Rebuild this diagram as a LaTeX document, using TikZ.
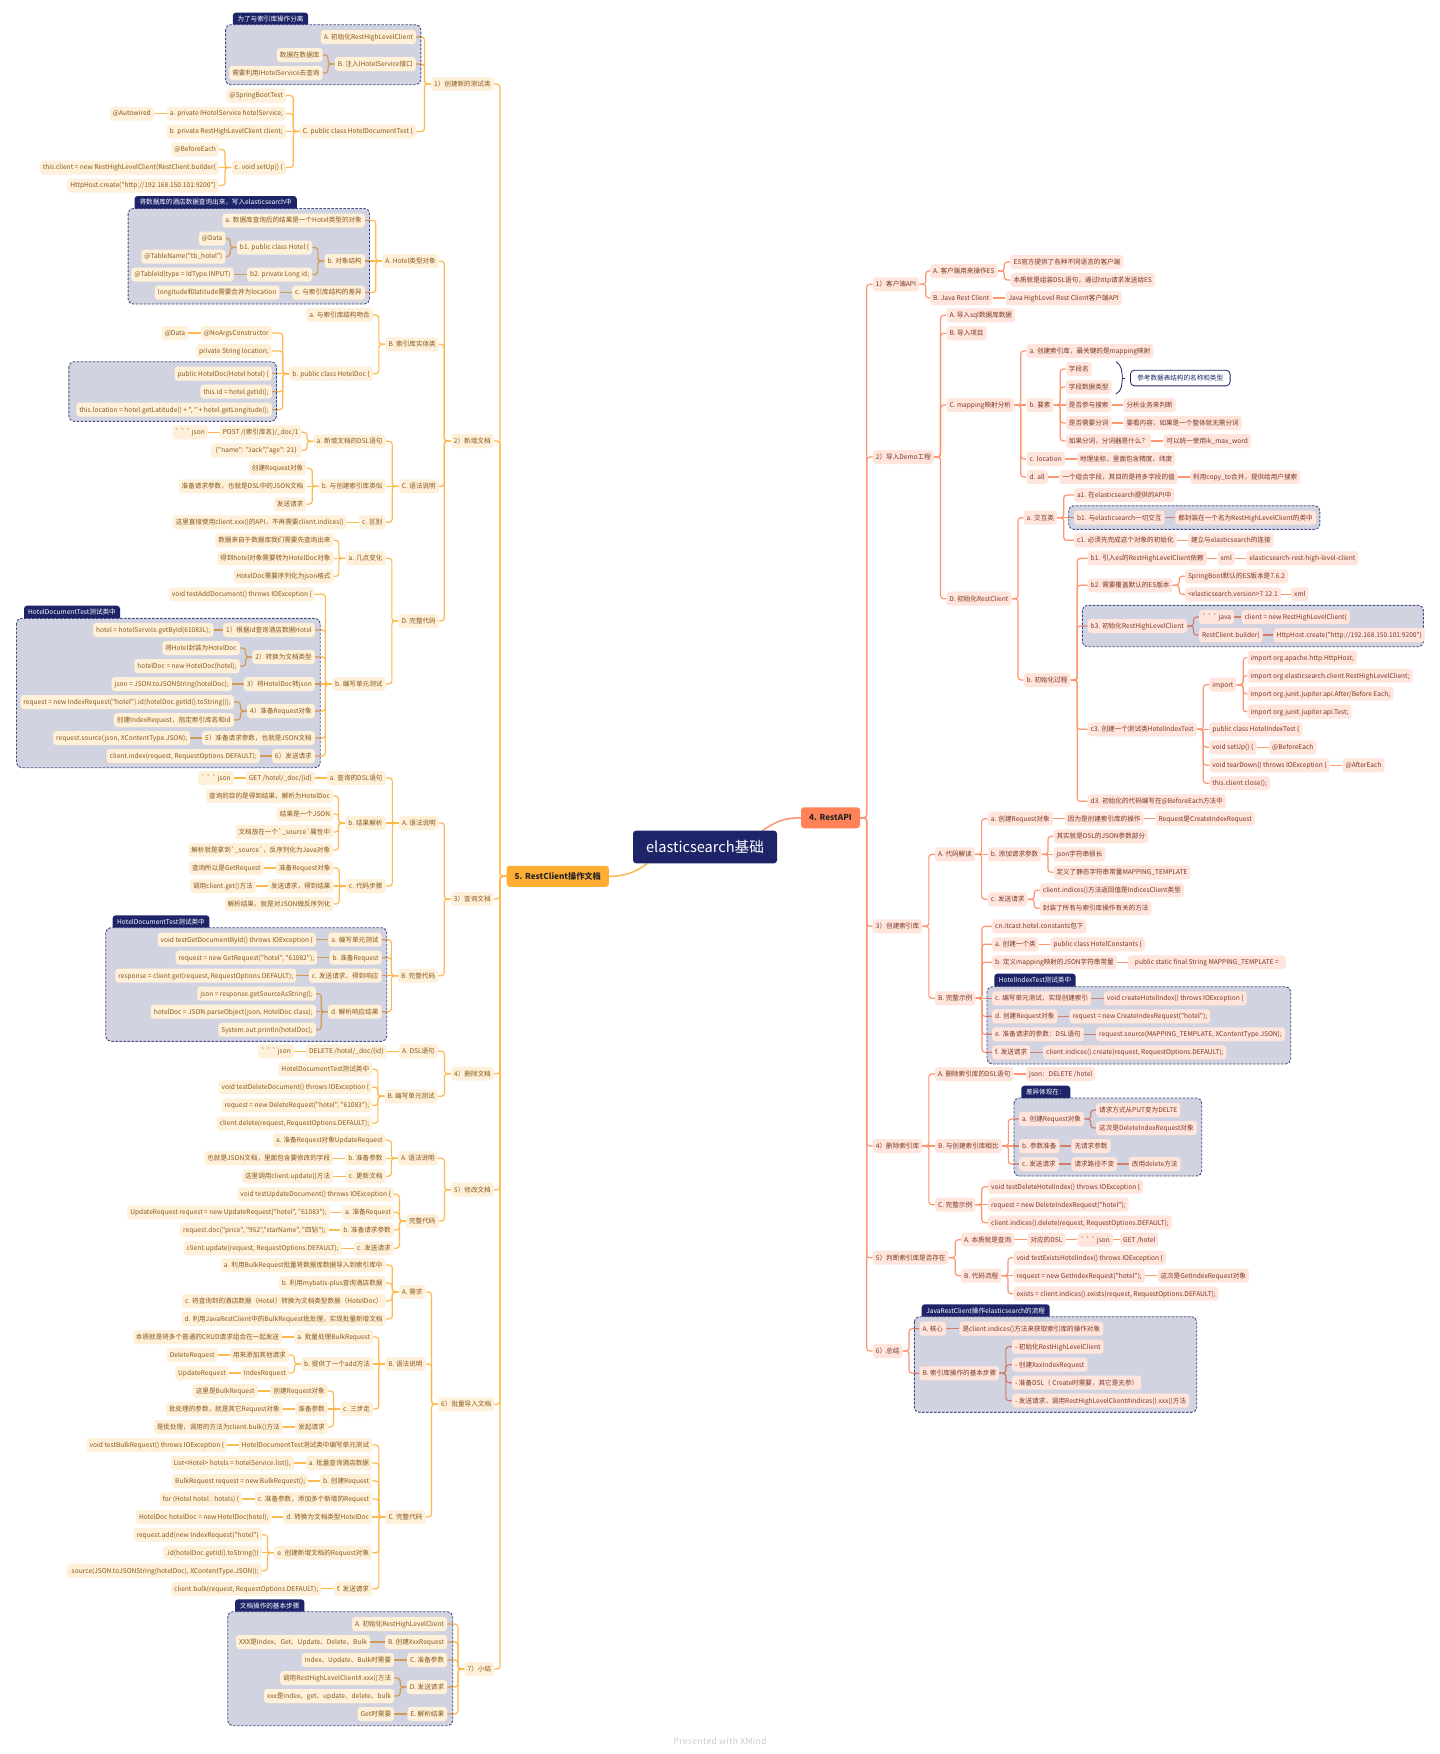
\documentclass[tikz,border=0pt]{standalone}
\usepackage{fontspec}
\newfontfamily\cjk{Noto Sans CJK SC}
\usetikzlibrary{arrows.meta}
\definecolor{navy}{HTML}{1D2568}
\definecolor{ylin}{HTML}{FFB84D}
\definecolor{yfil}{HTML}{FFF0DA}
\definecolor{ytxt}{HTML}{85581A}
\definecolor{ytop}{HTML}{FFAD33}
\definecolor{rlin}{HTML}{FF9470}
\definecolor{rfil}{HTML}{FFE5DC}
\definecolor{rtxt}{HTML}{7A3626}
\definecolor{rtop}{HTML}{FF8258}
\pgfdeclarelayer{lines}
\pgfdeclarelayer{zones}
\pgfsetlayers{lines,zones,main}
\tikzset{
  base/.style={inner xsep=3pt, inner ysep=0pt, minimum height=14pt, text height=6pt, text depth=1.4pt,
    rounded corners=3pt, font=\cjk\fontsize{6.6pt}{8pt}\selectfont},
  lnode/.style={base, anchor=east, fill=yfil, text=ytxt},
  rnode/.style={base, anchor=west, fill=rfil, text=rtxt},
  lline/.style={ylin, line width=1.2pt, rounded corners=3pt},
  rline/.style={rlin, line width=1.2pt, rounded corners=3pt},
  toL/.style={to path={(\tikztostart.west) -- ++(-6.5,0) |- (\tikztotarget.east)}},
  toR/.style={to path={(\tikztostart.east) -- ++(6.5,0) |- (\tikztotarget.west)}},
  zonebox/.style={draw=navy, line width=0.9pt, dash pattern=on 2.6pt off 1.4pt, fill=navy, fill opacity=.2,
    draw opacity=.8, rounded corners=5pt},
  tabtext/.style={text=white, inner sep=0pt, font=\cjk\fontsize{6.6pt}{8pt}\selectfont},
  topicnode/.style={rounded corners=3pt, text=black!85, minimum height=21pt, font=\cjk\bfseries\fontsize{8.2pt}{10pt}\selectfont}
}
\newcommand{\joinL}[2]{\foreach \kid in {#2} {%
  \pgfpointanchor{#1}{west}\pgfgetlastxy{\ax}{\ay}%
  \pgfpointanchor{\kid}{east}\pgfgetlastxy{\bx}{\by}%
  \pgfmathtruncatemacro{\flat}{abs(\ay-\by)<0.5}%
  \ifnum\flat=1 \draw[lline] (#1.west) -- (\kid.east); \else \draw[lline] (#1) to[toL] (\kid); \fi}}
\newcommand{\joinR}[2]{\foreach \kid in {#2} {%
  \pgfpointanchor{#1}{east}\pgfgetlastxy{\ax}{\ay}%
  \pgfpointanchor{\kid}{west}\pgfgetlastxy{\bx}{\by}%
  \pgfmathtruncatemacro{\flat}{abs(\ay-\by)<0.5}%
  \ifnum\flat=1 \draw[rline] (#1.east) -- (\kid.west); \else \draw[rline] (#1) to[toR] (\kid); \fi}}
\newcommand{\zone}[4]{\begin{pgfonlayer}{zones}\draw[zonebox] (#1,#2) rectangle (#3,#4);\end{pgfonlayer}}
\newcommand{\zonetab}[6]{\fill[navy] (#2,#5) [rounded corners=3pt] -- (#2,#3) -- (#4,#3) [sharp corners] -- (#4,#5) -- cycle;
  \node (#1) at ({(#2+#4)/2},{(#3+#5)/2}) [tabtext] {#6};}
\begin{document}
\begin{tikzpicture}[x=1pt, y=-1pt]
    \useasboundingbox (0,0) rectangle (1440,1754);

    \node (main) at (705,847) [fill=navy, text=white, rounded corners=3pt, minimum width=144pt, minimum height=32.6pt, font=\cjk\fontsize{14.6pt}{17pt}\selectfont] {elasticsearch基础};
    \node (n5) at (557.8,876.3) [topicnode, fill=ytop, minimum width=102.3pt] {5. RestClient操作文档};
    \node (n4) at (830.5,817.8) [topicnode, fill=rtop, minimum width=59pt] {4. RestAPI};
    \node (mark) at (720,1741) [text=black!20, inner sep=0pt, font=\cjk\fontsize{8.6pt}{10pt}\selectfont\addfontfeature{LetterSpace=4}] {Presented with XMind};

    % RestClient side
    \zone{225.6}{24.7}{420.8}{84.7}
    \zonetab{t1}{232.8}{12.7}{308.2}{24.7}{为了与索引库操作分离}
    \node (l1) at (493.8,84) [lnode] {1）创建新的测试类};
    \node (l1A) at (416,37) [lnode] {A. 初始化RestHighLevelClient};
    \node (l1B) at (416,64) [lnode] {B. 注入IHotelService接口};
    \node (l1Ba) at (322.7,55) [lnode] {数据在数据库};
    \node (l1Bb) at (322.7,73) [lnode] {需要利用IHotelService去查询};
    \node (l1C) at (416,131.5) [lnode] {C. public class HotelDocumentTest \{};
    \node (l1Ca) at (286,95.5) [lnode] {@SpringBootTest};
    \node (l1Cb) at (286,113.5) [lnode] {a. private IHotelService hotelService;};
    \node (l1Cb1) at (154,113.5) [lnode] {@Autowired};
    \node (l1Cc) at (286,131.5) [lnode] {b. private RestHighLevelClient client;};
    \node (l1Cd) at (286,167.5) [lnode] {c. void setUp() \{};
    \node (l1Cd1) at (219,149.5) [lnode] {@BeforeEach};
    \node (l1Cd2) at (219,167.5) [lnode] {this.client = new RestHighLevelClient(RestClient.builder(};
    \node (l1Cd3) at (219,185.5) [lnode] {HttpHost.create("http://192.168.150.101:9200")};

    \zone{128.1}{208.5}{369.5}{304}
    \zonetab{t2}{134.6}{196}{296.8}{208.5}{将数据库的酒店数据查询出来，写入elasticsearch中}
    \node (l2) at (493.8,441) [lnode] {2）新增文档};
    \node (l2A) at (439,261) [lnode] {A. Hotel类型对象};
    \node (l2Aa) at (365,220.5) [lnode] {a. 数据库查询后的结果是一个Hotel类型的对象};
    \node (l2Ab) at (365,261) [lnode] {b. 对象结构};
    \node (l2Ab1) at (312.3,247.5) [lnode] {b1. public class Hotel \{};
    \node (l2Ab1a) at (225.6,238.5) [lnode] {@Data};
    \node (l2Ab1b) at (225.6,256.5) [lnode] {@TableName("tb\_hotel")};
    \node (l2Ab2) at (312.3,274.5) [lnode] {b2. private Long id;};
    \node (l2Ab2a) at (233.8,274.5) [lnode] {@TableId(type = IdType.INPUT)};
    \node (l2Ac) at (365,292.5) [lnode] {c. 与索引库结构的差异};
    \node (l2Ac1) at (279.6,292.5) [lnode] {longitude和latitude需要合并为location};

    \zone{68.9}{361.7}{276.5}{421.3}
    \node (l2B) at (439,344.3) [lnode] {B. 索引库实体类};
    \node (l2Ba) at (373,315) [lnode] {a. 与索引库结构吻合};
    \node (l2Bb) at (373,373.7) [lnode] {b. public class HotelDoc \{};
    \node (l2Bb1) at (272,333) [lnode] {@NoArgsConstructor};
    \node (l2Bb1a) at (188.4,333) [lnode] {@Data};
    \node (l2Bb2) at (272,351) [lnode] {private String location;};
    \node (l2Bb3) at (272,373.7) [lnode] {public HotelDoc(Hotel hotel) \{};
    \node (l2Bb4) at (272,391.7) [lnode] {this.id = hotel.getId();};
    \node (l2Bb5) at (272,409.7) [lnode] {this.location = hotel.getLatitude() + ", " + hotel.getLongitude();};
    \node (l2C) at (439,486.3) [lnode] {C. 语法说明};
    \node (l2Ca) at (385.7,441.3) [lnode] {a. 新增文档的DSL语句};
    \node (l2Ca1) at (301.7,432.3) [lnode] {POST /\{索引库名\}/\_doc/1};
    \node (l2Ca1a) at (208,432.3) [lnode] {` ` ` json};
    \node (l2Ca2) at (301.7,450.3) [lnode, inner xsep=5pt] {\{"name": "Jack","age": 21\}};
    \node (l2Cb) at (385.7,486.3) [lnode] {b. 与创建索引库类似};
    \node (l2Cb1) at (306.5,468.3) [lnode] {创建Request对象};
    \node (l2Cb2) at (306.5,486.3) [lnode] {准备请求参数，也就是DSL中的JSON文档};
    \node (l2Cb3) at (306.5,504.3) [lnode] {发送请求};
    \node (l2Cc) at (385.7,522.3) [lnode] {c. 区别};
    \node (l2Cc1) at (347,522.3) [lnode] {这里直接使用client.xxx()的API，不再需要client.indices()};
    \node (l2D) at (439,621) [lnode] {D. 完整代码};
    \node (l2Da) at (385.7,558.3) [lnode] {a. 几点变化};
    \node (l2Da1) at (333.7,540.3) [lnode] {数据来自于数据库我们需要先查询出来};
    \node (l2Da2) at (333.7,558.3) [lnode] {得到hotel对象需要转为HotelDoc对象};
    \node (l2Da3) at (333.7,576.3) [lnode] {HotelDoc需要序列化为json格式};
    \node (l2Db) at (385.7,684) [lnode] {b. 编写单元测试};
    \node (l2Db0) at (315,594.3) [lnode] {void testAddDocument() throws IOException \{};

    \zone{16.5}{618.3}{320.2}{767.7}
    \zonetab{t3}{24}{605.7}{120}{618.3}{HotelDocumentTest测试类中}
    \node (l2Db1) at (315,630) [lnode] {1）根据id查询酒店数据Hotel};
    \node (l2Db1a) at (213.5,630) [lnode] {hotel = hotelService.getById(61083L);};
    \node (l2Db2) at (315,657) [lnode] {2）转换为文档类型};
    \node (l2Db2a) at (240,648) [lnode] {将Hotel封装为HotelDoc};
    \node (l2Db2b) at (240,666) [lnode] {hotelDoc = new HotelDoc(hotel);};
    \node (l2Db3) at (315,684) [lnode] {3）将HotelDoc转json};
    \node (l2Db3a) at (232,684) [lnode] {json = JSON.toJSONString(hotelDoc);};
    \node (l2Db4) at (315,711) [lnode] {4）准备Request对象};
    \node (l2Db4a) at (234,702) [lnode] {request = new IndexRequest("hotel").id(hotelDoc.getId().toString());};
    \node (l2Db4b) at (234,720) [lnode] {创建IndexRequest，指定索引库名和id};
    \node (l2Db5) at (315,738) [lnode] {5）准备请求参数，也就是JSON文档};
    \node (l2Db5a) at (190.4,738) [lnode] {request.source(json, XContentType.JSON);};
    \node (l2Db6) at (315,756) [lnode] {6）发送请求};
    \node (l2Db6a) at (260,756) [lnode] {client.index(request, RequestOptions.DEFAULT);};

    \node (l3) at (493.8,899) [lnode] {3）查询文档};
    \node (l3A) at (439,823) [lnode] {A. 语法说明};
    \node (l3Aa) at (385.7,778) [lnode] {a. 查询的DSL语句};
    \node (l3Aa1) at (315,778) [lnode] {GET /hotel/\_doc/\{id\}};
    \node (l3Aa1a) at (233.8,778) [lnode] {` ` ` json};
    \node (l3Ab) at (385.7,823) [lnode] {b. 结果解析};
    \node (l3Ab1) at (333.3,796) [lnode] {查询的目的是得到结果，解析为HotelDoc};
    \node (l3Ab2) at (333.3,814) [lnode] {结果是一个JSON};
    \node (l3Ab3) at (333.3,832) [lnode] {文档放在一个`\_source`属性中};
    \node (l3Ab4) at (333.3,850) [lnode] {解析就是拿到`\_source`，反序列化为Java对象};
    \node (l3Ac) at (385.7,886) [lnode] {c. 代码步骤};
    \node (l3Ac1) at (333.7,868) [lnode] {准备Request对象};
    \node (l3Ac1a) at (263.8,868) [lnode] {查询所以是GetRequest};
    \node (l3Ac2) at (333.7,886) [lnode] {发送请求，得到结果};
    \node (l3Ac2a) at (255.9,886) [lnode] {调用client.get()方法};
    \node (l3Ac3) at (333.7,904) [lnode] {解析结果，就是对JSON做反序列化};

    \zone{105.7}{927.7}{386.7}{1041.3}
    \zonetab{t4}{112.7}{915.3}{209.3}{927.7}{HotelDocumentTest测试类中}
    \node (l3B) at (438.3,975.7) [lnode] {B. 完整代码};
    \node (l3Ba) at (381.7,939.7) [lnode] {a. 编写单元测试};
    \node (l3Ba1) at (316,939.7) [lnode] {void testGetDocumentById() throws IOException \{};
    \node (l3Bb) at (381.7,957.7) [lnode] {b. 准备Request};
    \node (l3Bb1) at (317.3,957.7) [lnode] {request = new GetRequest("hotel", "61082");};
    \node (l3Bc) at (381.7,975.7) [lnode] {c. 发送请求，得到响应};
    \node (l3Bc1) at (296.3,975.7) [lnode] {response = client.get(request, RequestOptions.DEFAULT);};
    \node (l3Bd) at (381.7,1011.7) [lnode] {d. 解析响应结果};
    \node (l3Bd1) at (316,993.7) [lnode] {json = response.getSourceAsString();};
    \node (l3Bd2) at (316,1011.7) [lnode] {hotelDoc = JSON.parseObject(json, HotelDoc.class);};
    \node (l3Bd3) at (316,1029.7) [lnode] {System.out.println(hotelDoc);};

    \node (l4) at (494,1073.7) [lnode] {4）删除文档};
    \node (l4A) at (438,1051.3) [lnode] {A. DSL语句};
    \node (l4A1) at (386.7,1051.3) [lnode] {DELETE /hotel/\_doc/\{id\}};
    \node (l4A1a) at (294,1051.3) [lnode] {` ` ` json};
    \node (l4B) at (438,1096.3) [lnode] {B. 编写单元测试};
    \node (l4B1) at (372.3,1069.3) [lnode] {HotelDocumentTest测试类中};
    \node (l4B2) at (372.3,1087.3) [lnode] {void testDeleteDocument() throws IOException \{};
    \node (l4B3) at (372.3,1105.3) [lnode] {request = new DeleteRequest("hotel", "61083");};
    \node (l4B4) at (372.3,1123.3) [lnode] {client.delete(request, RequestOptions.DEFAULT);};

    \node (l5) at (494,1189.7) [lnode] {5）修改文档};
    \node (l5A) at (438,1158.3) [lnode] {A. 语法说明};
    \node (l5Aa) at (385.7,1140.3) [lnode] {a. 准备Request对象UpdateRequest};
    \node (l5Ab) at (385.7,1158.3) [lnode] {b. 准备参数};
    \node (l5Ab1) at (333.3,1158.3) [lnode] {也就是JSON文档，里面包含要修改的字段};
    \node (l5Ac) at (385.7,1176.3) [lnode] {c. 更新文档};
    \node (l5Ac1) at (333.3,1176.3) [lnode] {这里调用client.update()方法};
    \node (l5B) at (438.7,1221) [lnode] {完整代码};
    \node (l5B0) at (394,1194.3) [lnode] {void testUpdateDocument() throws IOException \{};
    \node (l5Ba) at (394,1212.3) [lnode] {a. 准备Request};
    \node (l5Ba1) at (330,1212.3) [lnode] {UpdateRequest request = new UpdateRequest("hotel", "61083");};
    \node (l5Bb) at (394,1230) [lnode] {b. 准备请求参数};
    \node (l5Bb1) at (328.7,1230) [lnode] {request.doc("price", "952","starName", "四钻");};
    \node (l5Bc) at (394,1248.3) [lnode] {c. 发送请求};
    \node (l5Bc1) at (342,1248.3) [lnode] {client.update(request, RequestOptions.DEFAULT);};

    \node (l6) at (494.3,1404.3) [lnode] {6）批量导入文档};
    \node (l6A) at (425.7,1292) [lnode] {A. 需求};
    \node (l6Aa) at (385.7,1265) [lnode] {a. 利用BulkRequest批量将数据库数据导入到索引库中};
    \node (l6Ab) at (385.7,1283) [lnode] {b. 利用mybatis-plus查询酒店数据};
    \node (l6Ac) at (385.7,1301) [lnode] {c. 将查询到的酒店数据（Hotel）转换为文档类型数据（HotelDoc）};
    \node (l6Ad) at (385.7,1319) [lnode] {d. 利用JavaRestClient中的BulkRequest批处理，实现批量新增文档};
    \node (l6B) at (425.7,1364) [lnode] {B. 语法说明};
    \node (l6Ba) at (373.3,1337) [lnode] {a. 批量处理BulkRequest};
    \node (l6Ba1) at (282.3,1337) [lnode] {本质就是将多个普通的CRUD请求组合在一起发送};
    \node (l6Bb) at (373.3,1364) [lnode] {b. 提供了一个add方法};
    \node (l6Bb1) at (289,1355) [lnode] {用来添加其他请求};
    \node (l6Bb1a) at (217.7,1355) [lnode] {DeleteRequest};
    \node (l6Bb2) at (289,1373) [lnode] {IndexRequest};
    \node (l6Bb2a) at (229,1373) [lnode] {UpdateRequest};
    \node (l6Bc) at (373.3,1409) [lnode] {c. 三步走};
    \node (l6Bc1) at (328,1391) [lnode] {创建Request对象};
    \node (l6Bc1a) at (257.7,1391) [lnode] {这里是BulkRequest};
    \node (l6Bc2) at (328,1409) [lnode] {准备参数};
    \node (l6Bc2a) at (283,1409) [lnode] {批处理的参数，就是其它Request对象};
    \node (l6Bc3) at (328,1427) [lnode] {发起请求};
    \node (l6Bc3a) at (283,1427) [lnode] {是批处理，调用的方法为client.bulk()方法};
    \node (l6C) at (425.7,1517) [lnode] {C. 完整代码};
    \node (l6C0) at (372.3,1445) [lnode] {HotelDocumentTest测试类中编写单元测试};
    \node (l6C0a) at (227.3,1445) [lnode] {void testBulkRequest() throws IOException \{};
    \node (l6Ca) at (372.3,1463) [lnode] {a. 批量查询酒店数据};
    \node (l6Ca1) at (294,1463) [lnode] {List<Hotel> hotels = hotelService.list();};
    \node (l6Cb) at (372.3,1481) [lnode] {b. 创建Request};
    \node (l6Cb1) at (308.3,1481) [lnode] {BulkRequest request = new BulkRequest();};
    \node (l6Cc) at (372.3,1499) [lnode] {c. 准备参数，添加多个新增的Request};
    \node (l6Cc1) at (242.3,1499) [lnode] {for (Hotel hotel : hotels) \{};
    \node (l6Cd) at (372.3,1517) [lnode] {d. 转换为文档类型HotelDoc};
    \node (l6Cd1) at (271.7,1517) [lnode] {HotelDoc hotelDoc = new HotelDoc(hotel);};
    \node (l6Ce) at (372.3,1552.7) [lnode] {e. 创建新增文档的Request对象};
    \node (l6Ce1) at (262,1534.7) [lnode] {request.add(new IndexRequest("hotel")};
    \node (l6Ce2) at (262,1552.7) [lnode] {.id(hotelDoc.getId().toString())};
    \node (l6Ce3) at (262,1570.7) [lnode] {.source(JSON.toJSONString(hotelDoc), XContentType.JSON));};
    \node (l6Cf) at (372.3,1588.7) [lnode] {f. 发送请求};
    \node (l6Cf1) at (321.3,1588.7) [lnode] {client.bulk(request, RequestOptions.DEFAULT);};

    \zone{227.7}{1611.7}{452.7}{1725.7}
    \zonetab{t5}{235}{1599.3}{304.3}{1611.7}{文档操作的基本步骤}
    \node (l7) at (494.3,1669) [lnode] {7）小结};
    \node (l7A) at (447.3,1624) [lnode] {A. 初始化RestHighLevelClient};
    \node (l7B) at (447.3,1642) [lnode] {B. 创建XxxRequest};
    \node (l7B1) at (370.3,1642) [lnode] {XXX是Index、Get、Update、Delete、Bulk};
    \node (l7C) at (447.3,1660) [lnode] {C. 准备参数};
    \node (l7C1) at (394.3,1660) [lnode] {Index、Update、Bulk时需要};
    \node (l7D) at (447.3,1687) [lnode] {D. 发送请求};
    \node (l7D1) at (394.3,1678) [lnode] {调用RestHighLevelClient\#.xxx()方法};
    \node (l7D2) at (394.3,1696) [lnode] {xxx是index、get、update、delete、bulk};
    \node (l7E) at (447.3,1714) [lnode] {E. 解析结果};
    \node (l7E1) at (394.3,1714) [lnode] {Get时需要};

    % RestAPI side
    \node (r1) at (872.7,284.3) [rnode] {1）客户端API};
    \node (r1A) at (930,271) [rnode] {A. 客户端用来操作ES};
    \node (r1Aa) at (1010.3,262) [rnode] {ES官方提供了各种不同语言的客户端};
    \node (r1Ab) at (1010.3,280) [rnode] {本质就是组装DSL语句，通过http请求发送给ES};
    \node (r1B) at (930,298) [rnode] {B. Java Rest Client};
    \node (r1B1) at (1005.3,298) [rnode] {Java HighLevel Rest Client客户端API};

    \node (r2) at (872.7,457) [rnode] {2）导入Demo工程};
    \node (r2A) at (946.3,315.3) [rnode] {A. 导入sql数据库数据};
    \node (r2B) at (946.3,333.3) [rnode] {B. 导入项目};
    \node (r2C) at (946.3,405) [rnode] {C. mapping映射分析};
    \node (r2Ca) at (1026.3,351) [rnode] {a. 创建索引库，最关键的是mapping映射};
    \node (r2Cb) at (1026.3,405) [rnode] {b. 要素};
    \node (r2Cb1) at (1065.7,369) [rnode] {字段名};
    \node (r2Cb2) at (1065.7,387) [rnode] {字段数据类型};
    \node (r2Cb3) at (1065.7,405) [rnode] {是否参与搜索};
    \node (r2Cb3a) at (1123.3,405) [rnode] {分析业务来判断};
    \node (r2Cb4) at (1065.7,423) [rnode] {是否需要分词};
    \node (r2Cb4a) at (1123.3,423) [rnode] {要看内容，如果是一个整体就无需分词};
    \node (r2Cb5) at (1065.7,441) [rnode] {如果分词，分词器是什么？};
    \node (r2Cb5a) at (1163.3,441) [rnode] {可以统一使用ik\_max\_word};
    \node (r2Cc) at (1026.3,459) [rnode] {c. location};
    \node (r2Cc1) at (1076.7,459) [rnode] {地理坐标，里面包含精度、纬度};
    \node (r2Cd) at (1026.3,477) [rnode] {d. all};
    \node (r2Cd1) at (1059.3,477) [rnode] {一个组合字段，其目的是将多字段的值};
    \node (r2Cd1a) at (1190,477) [rnode] {利用copy\_to合并，提供给用户搜索};
    \draw [navy, line width=0.8pt] (1116,361.7) .. controls (1122,365) and (1122,372) .. (1122.3,378) .. controls (1122,384) and (1122,391) .. (1116,394);
    \draw [navy, line width=0.8pt] (1122.3,378) -- (1125,378);
    \node (note) at (1130,378) [anchor=west, draw=navy, fill=white, text=navy, line width=0.8pt, rounded corners=4pt, minimum width=99.7pt, minimum height=15.7pt, inner sep=0pt, font=\cjk\fontsize{6.6pt}{8pt}\selectfont] {参考数据表结构的名称和类型};

    \zone{1068.7}{505.7}{1319.9}{529.3}
    \node (r2D) at (946.2,598.7) [rnode] {D. 初始化RestClient};
    \node (r2Da) at (1023.5,517.7) [rnode] {a. 交互类};
    \node (r2Da1) at (1073.8,495) [rnode] {a1. 在elasticsearch提供的API中};
    \node (r2Da2) at (1073.8,517.7) [rnode] {b1. 与elasticsearch一切交互};
    \node (r2Da2a) at (1175.2,517.7) [rnode] {都封装在一个名为RestHighLevelClient的类中};
    \node (r2Da3) at (1073.8,540.3) [rnode] {c1. 必须先完成这个对象的初始化};
    \node (r2Da3a) at (1187.8,540.3) [rnode] {建立与elasticsearch的连接};
    \node (r2Db) at (1023.5,680) [rnode] {b. 初始化过程};
    \node (r2Db1) at (1087.5,558.3) [rnode] {b1. 引入es的RestHighLevelClient依赖};
    \node (r2Db1a) at (1217.4,558.3) [rnode] {xml};
    \node (r2Db1b) at (1246.2,558.3) [rnode] {elasticsearch-rest-high-level-client};
    \node (r2Db2) at (1087.5,585.3) [rnode] {b2. 需要覆盖默认的ES版本};
    \node (r2Db2a) at (1184.8,576.3) [rnode] {SpringBoot默认的ES版本是7.6.2};
    \node (r2Db2b) at (1184.8,594.3) [rnode] {<elasticsearch.version>7.12.1};
    \node (r2Db2c) at (1291,594.3) [rnode] {xml};

    \zone{1082.3}{605.3}{1423.4}{646.7}
    \node (r2Db3) at (1087.5,626) [rnode] {b3. 初始化RestHighLevelClient};
    \node (r2Db3a) at (1198.9,617) [rnode] {` ` ` java};
    \node (r2Db3b) at (1241.4,617) [rnode] {client = new RestHighLevelClient(};
    \node (r2Db3c) at (1198.9,635) [rnode] {RestClient.builder(};
    \node (r2Db3d) at (1273.3,635) [rnode] {HttpHost.create("http://192.168.150.101:9200")};
    \node (r2Db4) at (1087.5,729.3) [rnode] {c3. 创建一个测试类HotelIndexTest};
    \node (r2Db4a) at (1209.2,684.7) [rnode] {import};
    \node (r2Db4a1) at (1247.3,657.7) [rnode] {import org.apache.http.HttpHost;};
    \node (r2Db4a2) at (1247.3,675.7) [rnode] {import org.elasticsearch.client.RestHighLevelClient;};
    \node (r2Db4a3) at (1247.3,693.7) [rnode] {import org.junit.jupiter.api.After/Before Each;};
    \node (r2Db4a4) at (1247.3,711.7) [rnode] {import org.junit.jupiter.api.Test;};
    \node (r2Db4b) at (1209.2,729.3) [rnode] {public class HotelIndexTest \{};
    \node (r2Db4c) at (1209.2,747.3) [rnode] {void setUp() \{};
    \node (r2Db4c1) at (1268.8,747.3) [rnode] {@BeforeEach};
    \node (r2Db4d) at (1209.2,765.3) [rnode] {void tearDown() throws IOException \{};
    \node (r2Db4d1) at (1342.4,765.3) [rnode] {@AfterEach};
    \node (r2Db4e) at (1209.2,783.3) [rnode] {this.client.close();};
    \node (r2Db5) at (1087.5,801.3) [rnode] {d3. 初始化的代码编写在@BeforeEach方法中};

    \node (r3) at (872.7,926.3) [rnode] {3）创建索引库};
    \node (r3A) at (935,854.3) [rnode] {A. 代码解读};
    \node (r3Aa) at (987.7,818.7) [rnode] {a. 创建Request对象};
    \node (r3Aa1) at (1064.7,818.7) [rnode] {因为是创建索引库的操作};
    \node (r3Aa2) at (1155.3,818.7) [rnode] {Request是CreateIndexRequest};
    \node (r3Ab) at (987.7,854.3) [rnode] {b. 添加请求参数};
    \node (r3Ab1) at (1053.3,836.3) [rnode] {其实就是DSL的JSON参数部分};
    \node (r3Ab2) at (1053.3,854.3) [rnode] {json字符串很长};
    \node (r3Ab3) at (1053.3,872.3) [rnode] {定义了静态字符串常量MAPPING\_TEMPLATE};
    \node (r3Ac) at (987.7,899.3) [rnode] {c. 发送请求};
    \node (r3Ac1) at (1039.7,890.3) [rnode] {client.indices()方法返回值是IndicesClient类型};
    \node (r3Ac2) at (1039.7,908.3) [rnode] {封装了所有与索引库操作有关的方法};
    \node (r3B) at (935,998.3) [rnode] {B. 完整示例};
    \node (r3B0) at (992,926.3) [rnode] {cn.itcast.hotel.constants包下};
    \node (r3Ba) at (992,944.3) [rnode] {a. 创建一个类};
    \node (r3Ba1) at (1050.3,944.3) [rnode] {public class HotelConstants \{};
    \node (r3Bb) at (992,962.3) [rnode] {b. 定义mapping映射的JSON字符串常量};
    \node (r3Bb1) at (1127.7,962.3) [rnode, inner xsep=7pt] {public static final String MAPPING\_TEMPLATE =};

    \zone{987}{986.7}{1290.7}{1064}
    \zonetab{t6}{994.3}{973.7}{1075.7}{986.7}{HotelIndexTest测试类中}
    \node (r3Bc) at (992,998.3) [rnode] {c. 编写单元测试，实现创建索引};
    \node (r3Bc1) at (1103.7,998.3) [rnode] {void createHotelIndex() throws IOException \{};
    \node (r3Bd) at (992,1016.3) [rnode] {d. 创建Request对象};
    \node (r3Bd1) at (1069.3,1016.3) [rnode] {request = new CreateIndexRequest("hotel");};
    \node (r3Be) at (992,1034.3) [rnode] {e. 准备请求的参数：DSL语句};
    \node (r3Be1) at (1096,1034.3) [rnode] {request.source(MAPPING\_TEMPLATE, XContentType.JSON);};
    \node (r3Bf) at (992,1052.3) [rnode] {f. 发送请求};
    \node (r3Bf1) at (1043,1052.3) [rnode] {client.indices().create(request, RequestOptions.DEFAULT);};

    \node (r4) at (872.7,1146) [rnode] {4）删除索引库};
    \node (r4A) at (935,1074) [rnode] {A. 删除索引库的DSL语句};
    \node (r4A1) at (1026,1074) [rnode] {json：DELETE /hotel};
    \node (r4B) at (935,1146) [rnode] {B. 与创建索引库相比};

    \zone{1014}{1098}{1201.7}{1176}
    \zonetab{t7}{1021.3}{1085.7}{1070.3}{1098}{差异体现在：}
    \node (r4Ba) at (1019,1119) [rnode] {a. 创建Request对象};
    \node (r4Ba1) at (1096,1110) [rnode] {请求方式从PUT变为DELTE};
    \node (r4Ba2) at (1096,1128) [rnode] {这次是DeleteIndexRequest对象};
    \node (r4Bb) at (1019,1146) [rnode] {b. 参数准备};
    \node (r4Bb1) at (1071.3,1146) [rnode] {无请求参数};
    \node (r4Bc) at (1019,1164) [rnode] {c. 发送请求};
    \node (r4Bc1) at (1071.3,1164) [rnode] {请求路径不变};
    \node (r4Bc2) at (1128.7,1164) [rnode] {改用delete方法};
    \node (r4C) at (935,1204.7) [rnode] {C. 完整示例};
    \node (r4C1) at (988,1186.7) [rnode] {void testDeleteHotelIndex() throws IOException \{};
    \node (r4C2) at (988,1204.7) [rnode] {request = new DeleteIndexRequest("hotel");};
    \node (r4C3) at (988,1222.7) [rnode] {client.indices().delete(request, RequestOptions.DEFAULT);};

    \node (r5) at (872.7,1257.7) [rnode] {5）判断索引库是否存在};
    \node (r5A) at (961,1239.7) [rnode] {A. 本质就是查询};
    \node (r5A1) at (1027.3,1239.7) [rnode] {对应的DSL};
    \node (r5A2) at (1077.3,1239.7) [rnode] {` ` ` json};
    \node (r5A3) at (1120,1239.7) [rnode] {GET /hotel};
    \node (r5B) at (961,1275.7) [rnode] {B. 代码流程};
    \node (r5B1) at (1013.3,1257.7) [rnode] {void testExistsHotelIndex() throws IOException \{};
    \node (r5B2) at (1013.3,1275.7) [rnode] {request = new GetIndexRequest("hotel");};
    \node (r5B2a) at (1157.3,1275.7) [rnode] {这次是GetIndexRequest对象};
    \node (r5B3) at (1013.3,1293.7) [rnode] {exists = client.indices().exists(request, RequestOptions.DEFAULT);};

    \zone{914.3}{1316.7}{1196.7}{1412.3}
    \zonetab{t8}{921.7}{1304.3}{1049.7}{1316.7}{JavaRestClient操作elasticsearch的流程}
    \node (r6) at (872.7,1351) [rnode] {6）总结};
    \node (r6A) at (919.3,1328.7) [rnode] {A. 核心};
    \node (r6A1) at (959.3,1328.7) [rnode] {是client.indices()方法来获取索引库的操作对象};
    \node (r6B) at (919.3,1373.3) [rnode] {B. 索引库操作的基本步骤};
    \node (r6B1) at (1012,1346.7) [rnode] {- 初始化RestHighLevelClient};
    \node (r6B2) at (1012,1364.7) [rnode] {- 创建XxxIndexRequest};
    \node (r6B3) at (1012,1382.7) [rnode] {- 准备DSL（ Create时需要，其它是无参）};
    \node (r6B4) at (1012,1400.7) [rnode] {- 发送请求，调用RestHighLevelClient\#indices().xxx()方法};

    \begin{pgfonlayer}{lines}
    \draw [ylin, line width=1.5pt] (main.196) to[out=215, in=0] (n5.east);
    \draw [rlin, line width=1.5pt] (main.16) to[out=35, in=180] (n4.west);
    \joinL{n5}{l1,l2,l3,l4,l5,l6,l7}
    \joinL{l1}{l1A,l1B,l1C}
    \joinL{l1B}{l1Ba,l1Bb}
    \joinL{l1C}{l1Ca,l1Cb,l1Cc,l1Cd}
    \joinL{l1Cb}{l1Cb1}
    \joinL{l1Cd}{l1Cd1,l1Cd2,l1Cd3}
    \joinL{l2}{l2A,l2B,l2C,l2D}
    \joinL{l2A}{l2Aa,l2Ab,l2Ac}
    \joinL{l2Ab}{l2Ab1,l2Ab2}
    \joinL{l2Ab1}{l2Ab1a,l2Ab1b}
    \joinL{l2Ab2}{l2Ab2a}
    \joinL{l2Ac}{l2Ac1}
    \joinL{l2B}{l2Ba,l2Bb}
    \joinL{l2Bb}{l2Bb1,l2Bb2,l2Bb3,l2Bb4,l2Bb5}
    \joinL{l2Bb1}{l2Bb1a}
    \joinL{l2C}{l2Ca,l2Cb,l2Cc}
    \joinL{l2Ca}{l2Ca1,l2Ca2}
    \joinL{l2Ca1}{l2Ca1a}
    \joinL{l2Cb}{l2Cb1,l2Cb2,l2Cb3}
    \joinL{l2Cc}{l2Cc1}
    \joinL{l2D}{l2Da,l2Db}
    \joinL{l2Da}{l2Da1,l2Da2,l2Da3}
    \joinL{l2Db}{l2Db0,l2Db1,l2Db2,l2Db3,l2Db4,l2Db5,l2Db6}
    \joinL{l2Db1}{l2Db1a}
    \joinL{l2Db2}{l2Db2a,l2Db2b}
    \joinL{l2Db3}{l2Db3a}
    \joinL{l2Db4}{l2Db4a,l2Db4b}
    \joinL{l2Db5}{l2Db5a}
    \joinL{l2Db6}{l2Db6a}
    \joinL{l3}{l3A,l3B}
    \joinL{l3A}{l3Aa,l3Ab,l3Ac}
    \joinL{l3Aa}{l3Aa1}
    \joinL{l3Aa1}{l3Aa1a}
    \joinL{l3Ab}{l3Ab1,l3Ab2,l3Ab3,l3Ab4}
    \joinL{l3Ac}{l3Ac1,l3Ac2,l3Ac3}
    \joinL{l3Ac1}{l3Ac1a}
    \joinL{l3Ac2}{l3Ac2a}
    \joinL{l3B}{l3Ba,l3Bb,l3Bc,l3Bd}
    \joinL{l3Ba}{l3Ba1}
    \joinL{l3Bb}{l3Bb1}
    \joinL{l3Bc}{l3Bc1}
    \joinL{l3Bd}{l3Bd1,l3Bd2,l3Bd3}
    \joinL{l4}{l4A,l4B}
    \joinL{l4A}{l4A1}
    \joinL{l4A1}{l4A1a}
    \joinL{l4B}{l4B1,l4B2,l4B3,l4B4}
    \joinL{l5}{l5A,l5B}
    \joinL{l5A}{l5Aa,l5Ab,l5Ac}
    \joinL{l5Ab}{l5Ab1}
    \joinL{l5Ac}{l5Ac1}
    \joinL{l5B}{l5B0,l5Ba,l5Bb,l5Bc}
    \joinL{l5Ba}{l5Ba1}
    \joinL{l5Bb}{l5Bb1}
    \joinL{l5Bc}{l5Bc1}
    \joinL{l6}{l6A,l6B,l6C}
    \joinL{l6A}{l6Aa,l6Ab,l6Ac,l6Ad}
    \joinL{l6B}{l6Ba,l6Bb,l6Bc}
    \joinL{l6Ba}{l6Ba1}
    \joinL{l6Bb}{l6Bb1,l6Bb2}
    \joinL{l6Bb1}{l6Bb1a}
    \joinL{l6Bb2}{l6Bb2a}
    \joinL{l6Bc}{l6Bc1,l6Bc2,l6Bc3}
    \joinL{l6Bc1}{l6Bc1a}
    \joinL{l6Bc2}{l6Bc2a}
    \joinL{l6Bc3}{l6Bc3a}
    \joinL{l6C}{l6C0,l6Ca,l6Cb,l6Cc,l6Cd,l6Ce,l6Cf}
    \joinL{l6C0}{l6C0a}
    \joinL{l6Ca}{l6Ca1}
    \joinL{l6Cb}{l6Cb1}
    \joinL{l6Cc}{l6Cc1}
    \joinL{l6Cd}{l6Cd1}
    \joinL{l6Ce}{l6Ce1,l6Ce2,l6Ce3}
    \joinL{l6Cf}{l6Cf1}
    \joinL{l7}{l7A,l7B,l7C,l7D,l7E}
    \joinL{l7B}{l7B1}
    \joinL{l7C}{l7C1}
    \joinL{l7D}{l7D1,l7D2}
    \joinL{l7E}{l7E1}
    \joinR{n4}{r1,r2,r3,r4,r5,r6}
    \joinR{r1}{r1A,r1B}
    \joinR{r1A}{r1Aa,r1Ab}
    \joinR{r1B}{r1B1}
    \joinR{r2}{r2A,r2B,r2C,r2D}
    \joinR{r2C}{r2Ca,r2Cb,r2Cc,r2Cd}
    \joinR{r2Cb}{r2Cb1,r2Cb2,r2Cb3,r2Cb4,r2Cb5}
    \joinR{r2Cb3}{r2Cb3a}
    \joinR{r2Cb4}{r2Cb4a}
    \joinR{r2Cb5}{r2Cb5a}
    \joinR{r2Cc}{r2Cc1}
    \joinR{r2Cd}{r2Cd1}
    \joinR{r2Cd1}{r2Cd1a}
    \joinR{r2D}{r2Da,r2Db}
    \joinR{r2Da}{r2Da1,r2Da2,r2Da3}
    \joinR{r2Da2}{r2Da2a}
    \joinR{r2Da3}{r2Da3a}
    \joinR{r2Db}{r2Db1,r2Db2,r2Db3,r2Db4,r2Db5}
    \joinR{r2Db1}{r2Db1a}
    \joinR{r2Db1a}{r2Db1b}
    \joinR{r2Db2}{r2Db2a,r2Db2b}
    \joinR{r2Db2b}{r2Db2c}
    \joinR{r2Db3}{r2Db3a,r2Db3c}
    \joinR{r2Db3a}{r2Db3b}
    \joinR{r2Db3c}{r2Db3d}
    \joinR{r2Db4}{r2Db4a,r2Db4b,r2Db4c,r2Db4d,r2Db4e}
    \joinR{r2Db4a}{r2Db4a1,r2Db4a2,r2Db4a3,r2Db4a4}
    \joinR{r2Db4c}{r2Db4c1}
    \joinR{r2Db4d}{r2Db4d1}
    \joinR{r3}{r3A,r3B}
    \joinR{r3A}{r3Aa,r3Ab,r3Ac}
    \joinR{r3Aa}{r3Aa1}
    \joinR{r3Aa1}{r3Aa2}
    \joinR{r3Ab}{r3Ab1,r3Ab2,r3Ab3}
    \joinR{r3Ac}{r3Ac1,r3Ac2}
    \joinR{r3B}{r3B0,r3Ba,r3Bb,r3Bc,r3Bd,r3Be,r3Bf}
    \joinR{r3Ba}{r3Ba1}
    \joinR{r3Bb}{r3Bb1}
    \joinR{r3Bc}{r3Bc1}
    \joinR{r3Bd}{r3Bd1}
    \joinR{r3Be}{r3Be1}
    \joinR{r3Bf}{r3Bf1}
    \joinR{r4}{r4A,r4B,r4C}
    \joinR{r4A}{r4A1}
    \joinR{r4B}{r4Ba,r4Bb,r4Bc}
    \joinR{r4Ba}{r4Ba1,r4Ba2}
    \joinR{r4Bb}{r4Bb1}
    \joinR{r4Bc}{r4Bc1}
    \joinR{r4Bc1}{r4Bc2}
    \joinR{r4C}{r4C1,r4C2,r4C3}
    \joinR{r5}{r5A,r5B}
    \joinR{r5A}{r5A1}
    \joinR{r5A1}{r5A2}
    \joinR{r5A2}{r5A3}
    \joinR{r5B}{r5B1,r5B2,r5B3}
    \joinR{r5B2}{r5B2a}
    \joinR{r6}{r6A,r6B}
    \joinR{r6A}{r6A1}
    \joinR{r6B}{r6B1,r6B2,r6B3,r6B4}
    \end{pgfonlayer}
\end{tikzpicture}
\end{document}
